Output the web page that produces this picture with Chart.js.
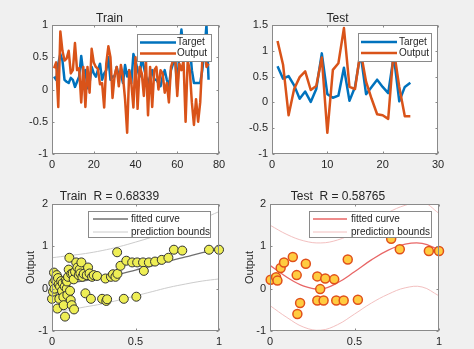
<!DOCTYPE html>
<html>
<head>
<meta charset="utf-8">
<script src="https://cdn.jsdelivr.net/npm/chart.js@4.4.1/dist/chart.umd.min.js"></script>
<style>
  html, body { margin: 0; padding: 0; background: #f0f0f0; }
  #fig { position: relative; width: 474px; height: 349px; overflow: hidden; background: #f0f0f0; }
  #fig canvas { position: absolute; }
</style>
</head>
<body>
<div id="fig">
  <canvas id="train-series" width="237" height="175" style="left:0;top:0"></canvas>
  <canvas id="test-series" width="237" height="175" style="left:237px;top:0"></canvas>
  <canvas id="train-fit" width="237" height="174" style="left:0;top:175px"></canvas>
  <canvas id="test-fit" width="237" height="174" style="left:237px;top:175px"></canvas>
</div>
<script>
'use strict';

// sample index of the training / test sets
var trainIdx = [1, 2, 3, 4, 5, 6, 7, 8, 9, 10, 11, 12, 13, 14, 15, 16, 17, 18, 19, 20,
    21, 22, 23, 24, 25, 26, 27, 28, 29, 30, 31, 32, 33, 34, 35, 36, 37, 38, 39, 40,
    41, 42, 43, 44, 45, 46, 47, 48, 49, 50, 51, 52, 53, 54, 55, 56, 57, 58, 59, 60,
    61, 62, 63, 64, 65, 66, 67, 68, 69, 70, 71, 72, 73, 74, 75]
var trainTarget = [0.20, 0.15, 0.40, 0.55, 0.45, 0.15, 0.12, 0.10, 0.18, 0.15,
    0.04, 0.12, 0.20, 0.52, 0.25, 0.30, 0.02, 0.10, 0.35, 0.25,
    0.20, 0.30, 0.40, 0.15, 0.25, 0.30, 0.50, 0.15, 0.20, 0.20,
    0.35, 0.20, 0.25, 0.10, 0.38, 0.20, 0.30, 0.10, 0.55, 0.45,
    0.30, 0.20, 0.50, 0.35, 0.20, 0.10, 0.20, 0.30, 0.15, 0.15,
    0.10, 0.05, 0.20, 0.30, 0.15, 0.05, 0.30, 0.40, 0.50, 0.00,
    0.60, 0.93, 0.60, 0.50, 0.60, 0.70, 0.30, 0.10, 0.10, 0.10,
    0.10, 0.30, 0.60, 1.00, 0.15]
var trainOutput = [0.33, 0.42, -0.27, 0.90, 0.60, 0.45, 0.48, 0.60, 0.25, 0.30,
    0.72, 0.30, 0.33, -0.20, 0.35, -0.27, 0.35, -0.05, 0.63, 0.42,
    0.35, 0.32, 0.08, 0.10, -0.28, 0.40, 0.67, 0.50, -0.13, 0.22,
    0.35, 0.05, 0.38, 0.20, -0.15, -0.67, 0.30, 0.10, -0.28, 0.50,
    -0.30, 0.35, 0.25, -0.10, 0.45, -0.40, 0.35, -0.27, 0.30, 0.35,
    0.00, 0.30, 0.25, -0.05, 0.10, -0.20, 0.35, 0.45, 0.50, -0.10,
    0.40, 0.30, 0.45, -0.50, 0.45, 0.30, -0.20, -0.55, -0.15, -0.50,
    -0.20, 0.45, 0.75, 0.35, 0.40]

var testIdx = [1, 2, 3, 4, 5, 6, 7, 8, 9, 10, 11, 12, 13, 14, 15, 16, 17, 18, 19, 20,
    21, 22, 23, 24, 25]
var testTarget = [0.70, 0.46, 0.51, 0.33, 0.07, 0.21, 0.01, 0.26, 0.95, 0.16,
    0.09, 0.13, 0.67, 0.03, 0.30, 0.95, 0.16, 0.30, 0.44, 0.30,
    0.18, 0.90, 0.02, 0.30, 0.38]
var testOutput = [1.19, 0.73, -0.25, 0.26, 0.49, 0.60, 0.24, 0.32, 0.87, -0.59,
    0.63, 0.76, 1.44, 0.30, 0.26, 1.00, 0.40, 0.07, -0.23, -0.25,
    -0.32, 1.02, 0.30, -0.27, -0.27]

// regression scatter (normalised target vs. output)
var trainScatterX = [0.000, 0.006, 0.008, 0.012, 0.015, 0.020, 0.028, 0.032, 0.036, 0.040,
    0.044, 0.048, 0.055, 0.060, 0.064, 0.068, 0.070, 0.076, 0.078, 0.082,
    0.088, 0.090, 0.092, 0.096, 0.100, 0.104, 0.108, 0.112, 0.115, 0.118,
    0.124, 0.130, 0.132, 0.138, 0.145, 0.152, 0.160, 0.165, 0.170, 0.176,
    0.182, 0.190, 0.200, 0.208, 0.216, 0.225, 0.233, 0.240, 0.250, 0.270,
    0.300, 0.320, 0.325, 0.330, 0.353, 0.365, 0.380, 0.390, 0.392, 0.410,
    0.430, 0.445, 0.480, 0.505, 0.510, 0.545, 0.550, 0.580, 0.617, 0.657,
    0.697, 0.730, 0.780, 0.940, 1.000]
var trainScatterY = [-0.24, -0.07, 0.13, 0.38, 0.00, 0.20, 0.32, -0.47, 0.25, 0.10,
    -0.24, 0.05, 0.18, -0.05, 0.13, -0.20, -0.39, 0.05, -0.66, 0.20,
    0.00, 0.17, -0.15, 0.28, 0.45, 0.73, -0.05, -0.27, 0.35, -0.39,
    0.36, 0.22, -0.49, 0.40, 0.62, 0.50, 0.32, 0.45, 0.36, 0.62,
    0.28, 0.35, -0.11, 0.32, 0.50, 0.36, -0.24, 0.28, 0.32, 0.30,
    -0.24, 0.24, -0.29, -0.25, 0.28, 0.34, 0.28, 0.86, 0.35, 0.54,
    -0.24, 0.66, 0.62, -0.19, 0.62, 0.62, 0.42, 0.62, 0.64, 0.68,
    0.73, 0.92, 0.90, 0.92, 0.92]
var testScatterX = [0.004, 0.036, 0.044, 0.063, 0.083, 0.135, 0.158, 0.162, 0.178, 0.212,
    0.280, 0.280, 0.297, 0.317, 0.327, 0.380, 0.392, 0.436, 0.460, 0.520,
    0.717, 0.768, 0.940, 1.000]
var testScatterY = [0.21, 0.27, 0.19, 0.49, 0.62, 0.75, 0.32, -0.60, -0.34, 0.59,
    0.29, -0.28, -0.01, -0.28, 0.24, 0.22, -0.28, -0.28, 0.69, -0.26,
    1.18, 0.93, 0.89, 0.89]

// fitted curves and prediction bounds, sampled along x
var fitX = [0, 0.1, 0.2, 0.3, 0.4, 0.5, 0.6, 0.7, 0.8, 0.9, 1]
var trainFit = [0.10, 0.14, 0.19, 0.26, 0.34, 0.44, 0.54, 0.65, 0.75, 0.85, 0.93]
var trainUpper = [0.73, 0.78, 0.83, 0.90, 0.99, 1.10, 1.22, 1.36, 1.50, 1.65, 1.82]
var trainLower = [-0.55, -0.50, -0.43, -0.36, -0.27, -0.17, -0.07, 0.03, 0.11, 0.18, 0.23]
var testFit = [0.55, 0.27, 0.06, -0.01, 0.14, 0.40, 0.68, 0.91, 1.05, 1.07, 0.92]
var testUpper = [1.50, 1.28, 1.13, 1.08, 1.15, 1.32, 1.55, 1.80, 1.97, 2.05, 1.78]
var testLower = [-0.40, -0.68, -0.91, -0.98, -0.85, -0.60, -0.34, -0.13, 0.02, 0.04, -0.17]

var trainR = 0.68339
var testR = 0.58765

var colorTarget = '#0072bd'
var colorOutput = '#d95319'
var colorBox = '#8a8a8a'
var colorText = '#262626'

Chart.defaults.font.family = '"Liberation Sans", Arial, sans-serif'
Chart.defaults.color = colorText
Chart.defaults.animation = false

function points(xs, ys) {
    return xs.map(function(x, i) { return {x: x, y: ys[i]} })
}

// plain tick numbers: 1, 0.5, 0, -1
function tickText(value) {
    return String(Math.round(value * 100) / 100)
}

// white axes area, box and inward tick marks
var axesBox = {
    id: 'axesBox',
    beforeDraw: function(chart) {
        var ctx = chart.ctx
        var a = chart.chartArea
        ctx.save()
        ctx.fillStyle = '#ffffff'
        ctx.fillRect(a.left, a.top, a.right - a.left, a.bottom - a.top)
        ctx.restore()
    },
    afterDatasetsDraw: function(chart) {
        var ctx = chart.ctx
        var a = chart.chartArea
        var sx = chart.scales.x
        var sy = chart.scales.y
        var l = Math.round(a.left) + 0.5
        var r = Math.round(a.right) - 0.5
        var t = Math.round(a.top) + 0.5
        var b = Math.round(a.bottom) - 0.5
        ctx.save()
        ctx.strokeStyle = colorBox
        ctx.lineWidth = 1
        ctx.beginPath()
        for (var tk of sx.ticks) {
            var px = Math.round(sx.getPixelForValue(tk.value)) + 0.5
            ctx.moveTo(px, b); ctx.lineTo(px, b - 2)
            ctx.moveTo(px, t); ctx.lineTo(px, t + 2)
        }
        for (var tk of sy.ticks) {
            var py = Math.round(sy.getPixelForValue(tk.value)) + 0.5
            ctx.moveTo(l, py); ctx.lineTo(l + 2, py)
            ctx.moveTo(r, py); ctx.lineTo(r - 2, py)
        }
        ctx.stroke()
        ctx.strokeRect(l, t, r - l, b - t)
        ctx.restore()
    }
}

// legend box placed inside the axes
var boxLegend = {
    id: 'boxLegend',
    afterDraw: function(chart, args, opts) {
        var ctx = chart.ctx
        var items = chart.data.datasets.filter(function(d) { return d.legendText })
        ctx.save()
        ctx.fillStyle = '#ffffff'
        ctx.fillRect(opts.x, opts.y, opts.w, opts.h)
        ctx.strokeStyle = colorBox
        ctx.lineWidth = 1
        ctx.strokeRect(opts.x + 0.5, opts.y + 0.5, opts.w - 1, opts.h - 1)
        ctx.font = '10px "Liberation Sans", Arial, sans-serif'
        ctx.textBaseline = 'middle'
        items.forEach(function(d, i) {
            var y = opts.y + opts.first + i * opts.gap
            ctx.strokeStyle = d.borderColor
            ctx.lineWidth = d.borderWidth
            ctx.setLineDash(d.borderDash || [])
            ctx.beginPath()
            ctx.moveTo(opts.x + opts.lineFrom, y)
            ctx.lineTo(opts.x + opts.lineTo, y)
            ctx.stroke()
            ctx.setLineDash([])
            ctx.fillStyle = colorText
            ctx.fillText(d.legendText, opts.x + opts.textX, y)
        })
        ctx.restore()
    }
}

function axes(xMin, xMax, xStep, yMin, yMax, yStep, yWidth, xHeight, yTitle) {
    var y = {
        type: 'linear',
        min: yMin,
        max: yMax,
        grid: {display: false, drawTicks: false},
        border: {display: false},
        ticks: {stepSize: yStep, padding: 4, font: {size: 11}, color: colorText, callback: tickText},
        afterFit: function(s) { s.width = yWidth }
    }
    if (yTitle) {
        y.title = {display: true, text: yTitle.text, font: {size: 11}, color: colorText,
            padding: {top: yTitle.pad, bottom: 0}}
    }
    return {
        x: {
            type: 'linear',
            min: xMin,
            max: xMax,
            grid: {display: false, drawTicks: false},
            border: {display: false},
            ticks: {stepSize: xStep, padding: 4, maxRotation: 0, autoSkip: false,
                font: {size: 11}, color: colorText, callback: tickText},
            afterFit: function(s) { s.height = xHeight }
        },
        y: y
    }
}

function initSeriesChart(id, title, idx, target, output, axesOpts, padRight, legendBox) {
    var ctx = document.getElementById(id).getContext('2d')
    new Chart(ctx, {
        type: 'scatter',
        data: {
            datasets: [{
                legendText: 'Target',
                data: points(idx, target),
                showLine: true,
                borderColor: colorTarget,
                borderWidth: 2.5,
                borderJoinStyle: 'round',
                pointRadius: 0,
                order: 2
            }, {
                legendText: 'Output',
                data: points(idx, output),
                showLine: true,
                borderColor: colorOutput,
                borderWidth: 2.5,
                borderJoinStyle: 'round',
                pointRadius: 0,
                order: 1
            }]
        },
        options: {
            responsive: false,
            events: [],
            layout: {padding: {left: 0, right: padRight, top: 0, bottom: 0}},
            scales: axesOpts,
            plugins: {
                legend: {display: false},
                tooltip: {enabled: false},
                title: {
                    display: true,
                    text: title,
                    color: colorText,
                    font: {size: 12, weight: 'normal', lineHeight: 1},
                    padding: {top: 13, bottom: 0}
                },
                boxLegend: legendBox
            }
        },
        plugins: [axesBox, boxLegend]
    })
}

function initFitChart(id, title, sx, sy, fit, upper, lower, style, axesOpts, padRight, legendBox) {
    var ctx = document.getElementById(id).getContext('2d')
    new Chart(ctx, {
        type: 'scatter',
        data: {
            datasets: [{
                data: points(sx, sy),
                pointRadius: 4.5,
                pointBackgroundColor: style.fill,
                pointBorderColor: style.edge,
                pointBorderWidth: style.edgeWidth,
                clip: false,
                order: 0
            }, {
                legendText: 'fitted curve',
                data: points(fitX, fit),
                showLine: true,
                tension: 0.4,
                borderColor: style.fit,
                borderWidth: 1.3,
                pointRadius: 0,
                order: 1
            }, {
                legendText: 'prediction bounds',
                data: points(fitX, upper),
                showLine: true,
                tension: 0.4,
                borderColor: style.bounds,
                borderWidth: 1,
                pointRadius: 0,
                order: 2
            }, {
                data: points(fitX, lower),
                showLine: true,
                tension: 0.4,
                borderColor: style.bounds,
                borderWidth: 1,
                pointRadius: 0,
                order: 2
            }]
        },
        options: {
            responsive: false,
            events: [],
            layout: {padding: {left: 0, right: padRight, top: 0, bottom: 0}},
            scales: axesOpts,
            plugins: {
                legend: {display: false},
                tooltip: {enabled: false},
                title: {
                    display: true,
                    text: title,
                    color: colorText,
                    font: {size: 12, weight: 'normal', lineHeight: 1},
                    padding: {top: 16, bottom: 1}
                },
                boxLegend: legendBox
            }
        },
        plugins: [axesBox, boxLegend]
    })
}

initSeriesChart('train-series', 'Train', trainIdx, trainTarget, trainOutput,
    axes(0, 80, 20, -1, 1, 0.5, 52, 21), 18,
    {x: 137, y: 34, w: 75, h: 28, first: 8.5, gap: 11, lineFrom: 3, lineTo: 39, textX: 40})

initSeriesChart('test-series', 'Test', testIdx, testTarget, testOutput,
    axes(0, 30, 10, -1, 1.5, 0.5, 35, 21), 36,
    {x: 121, y: 33, w: 74, h: 29, first: 9, gap: 11, lineFrom: 3, lineTo: 39, textX: 41})

initFitChart('train-fit', 'Train  R = ' + trainR, trainScatterX, trainScatterY,
    trainFit, trainUpper, trainLower,
    {fill: '#eeee55', edge: '#333333', edgeWidth: 1, fit: '#707070', bounds: '#cccccc'},
    axes(0, 1, 0.5, -1, 2, 1, 52, 18, {text: 'Output', pad: 24}), 18,
    {x: 88, y: 36, w: 123, h: 27, first: 8, gap: 13, lineFrom: 5, lineTo: 40, textX: 43})

initFitChart('test-fit', 'Test  R = ' + testR, testScatterX, testScatterY,
    testFit, testUpper, testLower,
    {fill: '#ffcc40', edge: '#e0501a', edgeWidth: 1.5, fit: '#e86666', bounds: '#f3c0c0'},
    axes(0, 1, 0.5, -1, 2, 1, 33, 18, {text: 'Output', pad: 6}), 35,
    {x: 72, y: 36, w: 123, h: 27, first: 8, gap: 13, lineFrom: 4, lineTo: 38, textX: 42})
</script>
</body>
</html>
